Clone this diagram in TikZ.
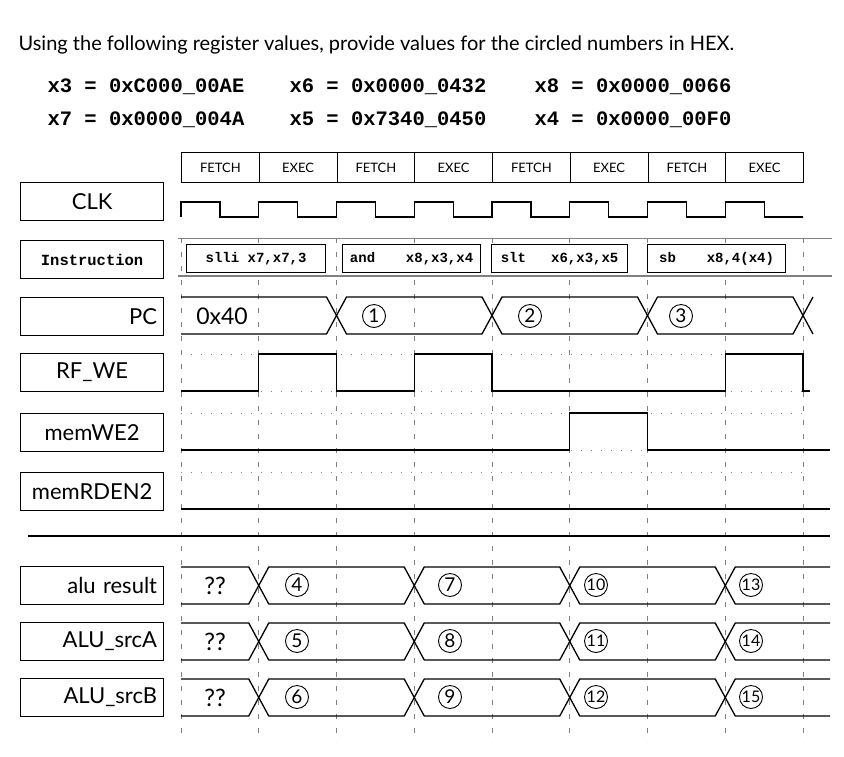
\documentclass[tikz,border=0pt]{standalone}
\usepackage{fontspec}
\setmainfont{Lato}
\newfontfamily\mono{Liberation Mono}
\begin{document}
\begin{tikzpicture}[x=1pt,y=-1pt,
  lbl/.style={draw,line width=1.2pt,minimum width=143pt,minimum height=38pt,anchor=north west,font=\fontsize{22}{22}\selectfont},
  hdr/.style={draw,line width=1pt,minimum width=77.75pt,minimum height=30pt,anchor=north west,font=\fontsize{13}{13}\selectfont},
  ins/.style={draw,line width=1.2pt,fill=white,minimum height=28pt,anchor=north west,font=\mono\bfseries\fontsize{14}{14}\selectfont},
  sig/.style={line width=1.3pt},
  grid/.style={gray,line width=0.6pt,dash pattern=on 5pt off 9pt},
  dot/.style={gray,line width=0.8pt,dash pattern=on 1pt off 9pt},
  circ/.style={draw,circle,line width=0.9pt,minimum size=23pt,inner sep=0pt,font=\fontsize{19}{19}\selectfont},
  reg/.style={anchor=west,font=\mono\bfseries\fontsize{20.5}{20.5}\selectfont}]
\useasboundingbox (0,0) rectangle (844,756);
\node[anchor=west,font=\fontsize{20}{20}\selectfont] (title) at (15,45) {Using the following register values, provide values for the circled numbers in HEX.};
\node[reg] (r1) at (44,87) {x3 = 0xC000\_00AE};
\node[reg] (r2) at (286,87) {x6 = 0x0000\_0432};
\node[reg] (r3) at (531,87) {x8 = 0x0000\_0066};
\node[reg] (r4) at (44,120) {x7 = 0x0000\_004A};
\node[reg] (r5) at (286,120) {x5 = 0x7340\_0450};
\node[reg] (r6) at (531,120) {x4 = 0x0000\_00F0};
% grid
\foreach \k in {0,...,8} \draw[grid] (181+77.75*\k,238) -- (181+77.75*\k,742);
% header
\foreach \k/\t in {0/FETCH,1/EXEC,2/FETCH,3/EXEC,4/FETCH,5/EXEC,6/FETCH,7/EXEC}
  \node[hdr] (h\k) at (181+77.75*\k,152) {\t};
% labels
\node[lbl] (lclk) at (20,182) {CLK};
\node[lbl,font=\mono\bfseries\fontsize{15.5}{15.5}\selectfont] (lins) at (20,240) {Instruction};
\node[lbl,align=right,text width=130pt] (lpc) at (20,297) {PC};
\node[lbl] (lrf) at (20,353) {RF\_WE};
\node[lbl] (lmw) at (20,413) {memWE2};
\node[lbl] (lmr) at (20,472) {memRDEN2};
\node[lbl,align=right,text width=130pt] (lalu) at (20,566) {alu result};
\node[lbl,align=right,text width=130pt] (lsa) at (20,622) {ALU\_srcA};
\node[lbl,align=right,text width=130pt] (lsb) at (20,678) {ALU\_srcB};
% clock
\draw[sig] (181,217) -- (181,202)
  \foreach \k in {0,...,7} { -- (181+77.75*\k+38.9,202) -- (181+77.75*\k+38.9,217) -- (181+77.75*\k+77.75,217) \ifnum\k<7 -- (181+77.75*\k+77.75,202)\fi } -- (795,217);
% instruction row
\draw[gray,line width=0.6pt] (178,238) -- (832,238);
\draw[gray,line width=1.5pt] (178,276) -- (832,276);
\node[ins,minimum width=139pt] (i1) at (186,244) {slli x7,x7,3\hspace{1.2em}};
\node[ins,minimum width=138pt] (i2) at (342,244) {and\hspace{2.2em}x8,x3,x4};
\node[ins,minimum width=136pt] (i3) at (491,244) {slt\hspace{1.8em}x6,x3,x5};
\node[ins,minimum width=138pt] (i4) at (647,244) {sb\hspace{2.2em}x8,4(x4)};
% PC bus
\draw[sig] (181,297) -- (326.5,297) -- (346.5,334) -- (482,334) -- (502,297) -- (637.5,297) -- (657.5,334) -- (793,334) -- (813,297);
\draw[sig] (181,334) -- (326.5,334) -- (346.5,297) -- (482,297) -- (502,334) -- (637.5,334) -- (657.5,297) -- (793,297) -- (813,334);
\node[font=\fontsize{23}{23}\selectfont] (pc0) at (222,316) {0x40};
\node[circ] (c1) at (374,316) {1};
\node[circ] (c2) at (530,316) {2};
\node[circ] (c3) at (681,316) {3};
% RF_WE
\draw[dot] (181,354) -- (810,354);
\draw[dot] (181,391) -- (810,391);
\draw[sig] (181,391) -- (258.75,391) -- (258.75,354) -- (336.5,354) -- (336.5,391) -- (414.25,391) -- (414.25,354) -- (492,354) -- (492,391) -- (725.25,391) -- (725.25,354) -- (803,354) -- (803,391) -- (810,391);
% memWE2
\draw[dot] (181,413) -- (810,413);
\draw[dot] (181,450) -- (810,450);
\draw[sig] (181,450) -- (569.75,450) -- (569.75,413) -- (647.5,413) -- (647.5,450) -- (830,450);
% memRDEN2
\draw[dot] (181,472) -- (810,472);
\draw[sig] (181,509) -- (830,509);
% separator
\draw[line width=1.3pt] (28,536) -- (830,536);
% alu buses
\foreach \y/\a/\b/\c/\d in {567/4/7/10/13,623/5/8/11/14,679/6/9/12/15}{
  \draw[sig] (181,\y) -- (248.75,\y) -- (268.75,\y+37) -- (404.25,\y+37) -- (424.25,\y) -- (559.75,\y) -- (579.75,\y+37) -- (715.25,\y+37) -- (735.25,\y) -- (830,\y);
  \draw[sig] (181,\y+37) -- (248.75,\y+37) -- (268.75,\y) -- (404.25,\y) -- (424.25,\y+37) -- (559.75,\y+37) -- (579.75,\y) -- (715.25,\y) -- (735.25,\y+37) -- (830,\y+37);
  \node[font=\fontsize{24}{24}\selectfont] (q\a) at (215,\y+19) {??};
  \node[circ] (n\a) at (297,\y+18) {\a};
  \node[circ] (n\b) at (450,\y+18) {\b};
  \node[circ,font=\fontsize{16}{16}\selectfont] (n\c) at (596,\y+18) {\c};
  \node[circ,font=\fontsize{16}{16}\selectfont] (n\d) at (751,\y+18) {\d};
}
\end{tikzpicture}
\end{document}
